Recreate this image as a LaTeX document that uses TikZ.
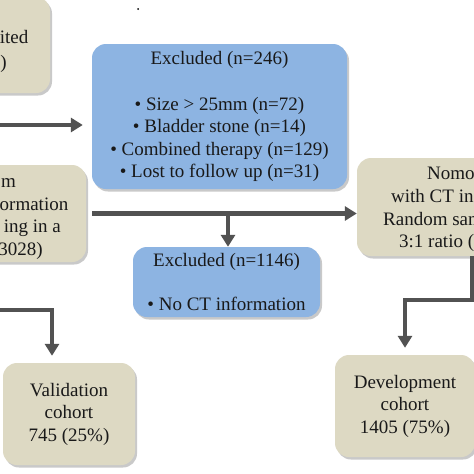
\documentclass[tikz,border=0pt]{standalone}
\usepackage{fontspec}
\setmainfont{Liberation Serif}
\usetikzlibrary{arrows.meta,shadows}
\definecolor{beige}{RGB}{221,217,195}
\definecolor{boxblue}{RGB}{141,180,226}
\definecolor{arrowgray}{RGB}{82,82,82}
\definecolor{txt}{RGB}{25,25,25}
\begin{document}
\begin{tikzpicture}[x=1pt,y=-1pt,
  box/.style={rounded corners=14pt, inner sep=0pt,
    drop shadow={shadow xshift=2pt,shadow yshift=-2.5pt,opacity=0.35,fill=black!60}},
  beigebox/.style={box, fill=beige},
  bluebox/.style={box, fill=boxblue},
  lbl/.style={font=\fontsize{19}{22.5}\selectfont, text=txt, align=center},
  frag/.style={font=\fontsize{19}{22.5}\selectfont, text=txt, inner sep=0pt},
  conn/.style={draw=arrowgray, line width=4.5pt},
  arr/.style={conn, -{Triangle[length=12pt,width=14pt]}}]
\useasboundingbox (0,0) rectangle (474,474);
\clip (0,0) rectangle (474,474);
\fill[white] (0,0) rectangle (474,474);

% boxes
\node[beigebox, minimum width=130pt, minimum height=96pt] (tl) at (-15,45) {};
\node[beigebox, minimum width=166pt, minimum height=97pt] (ml) at (3,213.5) {};
\node[beigebox, minimum width=200pt, minimum height=98pt] (rb) at (457,207) {};
\node[bluebox, lbl, minimum width=255pt, minimum height=145pt] (ex1) at (219.5,116.5)
  {Excluded (n=246)\\[23pt] • Size > 25mm (n=72)\\ • Bladder stone (n=14)\\ • Combined therapy (n=129)\\ • Lost to follow up (n=31)};
\node[bluebox, lbl, minimum width=187pt, minimum height=70pt] (ex2) at (226.5,282)
  {Excluded (n=1146)\\[22pt] • No CT information};
\node[beigebox, lbl, minimum width=132pt, minimum height=102pt] (val) at (69,414)
  {Validation\\cohort\\745 (25\%)};
\node[beigebox, lbl, minimum width=140pt, minimum height=102pt] (dev) at (405,406)
  {Development\\cohort\\1405 (75\%)};

% text fragments cut by the picture's edge
\node[frag, anchor=base east] (tla) at (28.5,43) {ited};
\node[frag, anchor=base east] (tlb) at (7,68) {)};
\node[frag, anchor=base east] (mla) at (16,187) {m};
\node[frag, anchor=base east] (mlb) at (68.5,210) {ormation};
\node[frag, anchor=base east] (mlc) at (61,232) {ing in a};
\node[frag, anchor=base east] (mld) at (43,255) {3028)};
\node[frag, anchor=base west] (rba) at (427,179) {Nomo};
\node[frag, anchor=base west] (rbb) at (391,202) {with CT in};
\node[frag, anchor=base west] (rbc) at (383,225) {Random sam};
\node[frag, anchor=base west] (rbd) at (399,247) {3:1 ratio (};

% connectors
\coordinate (a0) at (0,125);
\draw[arr, shorten >=9pt] (a0) -- (a0 -| ex1.west);
\draw[arr, shorten <=6pt] (ml.east) -- (ml.east -| rb.west);
\coordinate (j) at (228,213.5);
\draw[arr] (j) -- (j |- ex2.north);
\coordinate (v0) at (0,310);
\coordinate (v1) at (52,310);
\draw[arr, shorten >=7pt] (v0) -- (v1) -- (v1 |- val.north);
\coordinate (r1) at (472,300);
\draw[arr, shorten >=7pt] (r1 |- rb.south) -- (r1) -| (dev.north);

% stray dot
\fill[black] (138,9) circle (1pt);
\end{tikzpicture}
\end{document}
